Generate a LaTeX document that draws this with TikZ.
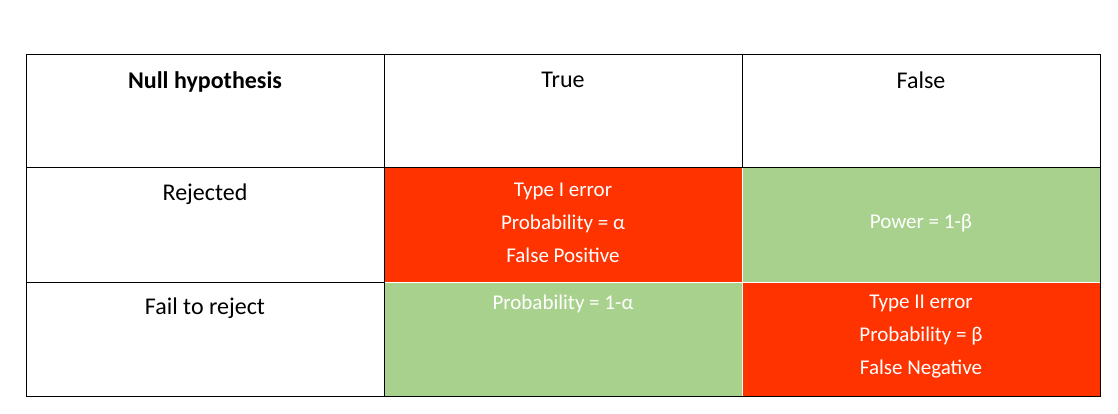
\documentclass[tikz,border=0pt]{standalone}
\usepackage{fontspec}
\setmainfont{Carlito}
\definecolor{cred}{HTML}{FF3300}
\definecolor{cgreen}{HTML}{A9D18E}
\begin{document}
\begin{tikzpicture}[x=1pt,y=-1pt,
  hdr/.style={font=\fontsize{24}{28}\selectfont,anchor=center},
  cell/.style={font=\fontsize{21}{33}\selectfont,text=white,align=center,anchor=center}]
\useasboundingbox (0,0) rectangle (1118,414);
\fill[white] (0,0) rectangle (1118,414);
\fill[cred] (384,168) rectangle (742,282);
\fill[cgreen] (742,168) rectangle (1100,282);
\fill[cgreen] (384,282) rectangle (742,396);
\fill[cred] (742,282) rectangle (1100,396);
\draw[white,line width=1pt] (384,282) -- (1100,282) (742,168) -- (742,396);
\draw[black,line width=1pt] (26,55) rectangle (1100,396);
\draw[black,line width=1pt] (26,168) -- (1100,168) (26,282) -- (384,282)
  (384,55) -- (384,396) (742,55) -- (742,168);
\node[hdr,font=\fontsize{24}{28}\selectfont\bfseries] (nh) at (205,82) {Null hypothesis};
\node[hdr] (tr) at (563,80) {True};
\node[hdr] (fa) at (921,80) {False};
\node[hdr] (rj) at (205,194) {Rejected};
\node[hdr] (fr) at (205,308) {Fail to reject};
\node[cell] (t1) at (563,223) {Type I error\\Probability = α\\False Positive};
\node[cell] (pw) at (921,223) {Power = 1-β};
\node[cell] (p1) at (563,304) {Probability = 1-α};
\node[cell] (t2) at (921,337) {Type II error\\Probability = β\\False Negative};
\end{tikzpicture}
\end{document}
